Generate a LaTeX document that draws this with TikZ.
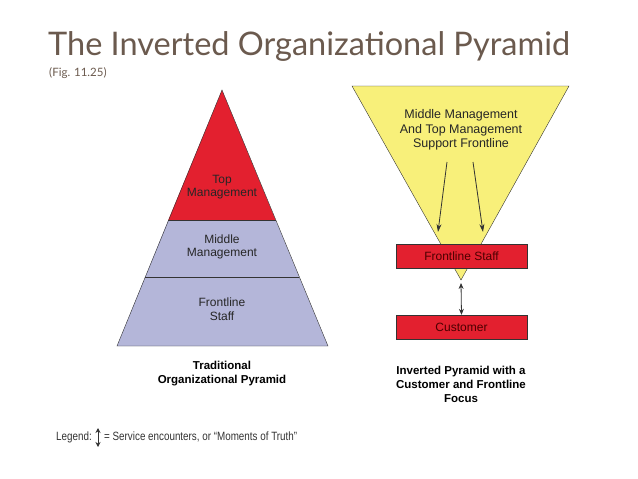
\documentclass[tikz,border=0pt]{standalone}
\usepackage{fontspec}
\setmainfont{Liberation Sans}
\newfontfamily\titlefont{Lato}
\newfontfamily\narrowfont[FakeStretch=0.82,Ligatures=TeX]{Liberation Sans}
\usetikzlibrary{arrows.meta}
\definecolor{pred}{HTML}{E3202F}
\definecolor{plav}{HTML}{B4B6D9}
\definecolor{pyel}{HTML}{F8F07A}
\definecolor{ptitle}{HTML}{6B5A4E}
\tikzset{x=1pt,y=-1pt,
 lbl/.style={align=center,font=\fontsize{12}{13.5}\selectfont,text=black!85},
 bl/.style={align=center,font=\bfseries\fontsize{11.5}{14}\selectfont},
 box/.style={draw=black!80,fill=pred,minimum width=131pt,minimum height=24pt,inner sep=0pt,font=\fontsize{12}{13}\selectfont,text=black!70!red},
 arr/.style={-{Stealth[length=8pt,width=5pt]},thick,black!80}}
\begin{document}
\begin{tikzpicture}
\useasboundingbox (0,0) rectangle (638,479);
\node[anchor=base west,font=\titlefont\fontsize{32.5}{35}\selectfont,text=ptitle,inner sep=0pt] (t) at (48,56) {The Inverted Organizational Pyramid};
\node[anchor=base west,font=\titlefont\fontsize{11.5}{13}\selectfont,text=ptitle,inner sep=0pt] (f) at (49,76) {(Fig. 11.25)};
\fill[pred] (222,90) -- (275.7,220) -- (168.3,220) -- cycle;
\fill[plav] (168.3,220) -- (275.7,220) -- (328,346) -- (117,346) -- cycle;
\draw[black!80] (222,90) -- (328,346) -- (117,346) -- cycle;
\draw[black!80] (168.3,220) -- (275.7,220);
\draw[black!80] (145,277) -- (299.4,277);
\node[lbl] (tm) at (222,187) {Top\\Management};
\node[lbl] (mm) at (222,247) {Middle\\Management};
\node[lbl] (fs) at (222,309) {Frontline\\Staff};
\node[bl] (tl) at (222,374) {Traditional\\Organizational Pyramid};
\draw[black!80,fill=pyel] (352,86) -- (569,86) -- (461,280) -- cycle;
\node[lbl,font=\fontsize{12.5}{14.5}\selectfont] (ms) at (461,130) {Middle Management\\And Top Management\\Support Frontline};
\coordinate (a1) at (447,162); \coordinate (a1e) at (438,232);
\coordinate (a2) at (473,162); \coordinate (a2e) at (483,232);
\draw[arr] (a1) -- (a1e);
\draw[arr] (a2) -- (a2e);
\node[box] (fb) at (461.5,256) {Frontline Staff};
\node[box] (cb) at (461.5,327) {Customer};
\draw[{Stealth[length=6pt,width=5pt]}-{Stealth[length=6pt,width=5pt]},thick,black!80] (461,283) -- (cb.north);
\node[bl] (il) at (461,384) {Inverted Pyramid with a\\Customer and Frontline\\Focus};
\node[anchor=west,font=\narrowfont\fontsize{12}{13}\selectfont,text=black!80,inner sep=0pt] (lg) at (56,437) {Legend:};
\coordinate (l1) at (98,428); \coordinate (l2) at (98,447);
\draw[{Stealth[length=5pt,width=5pt]}-{Stealth[length=5pt,width=5pt]},thick,black!80] (l1) -- (l2);
\node[anchor=west,font=\narrowfont\fontsize{12}{13}\selectfont,text=black!80,inner sep=0pt] (lt) at (104,437) {= Service encounters, or “Moments of Truth”};
\end{tikzpicture}
\end{document}
